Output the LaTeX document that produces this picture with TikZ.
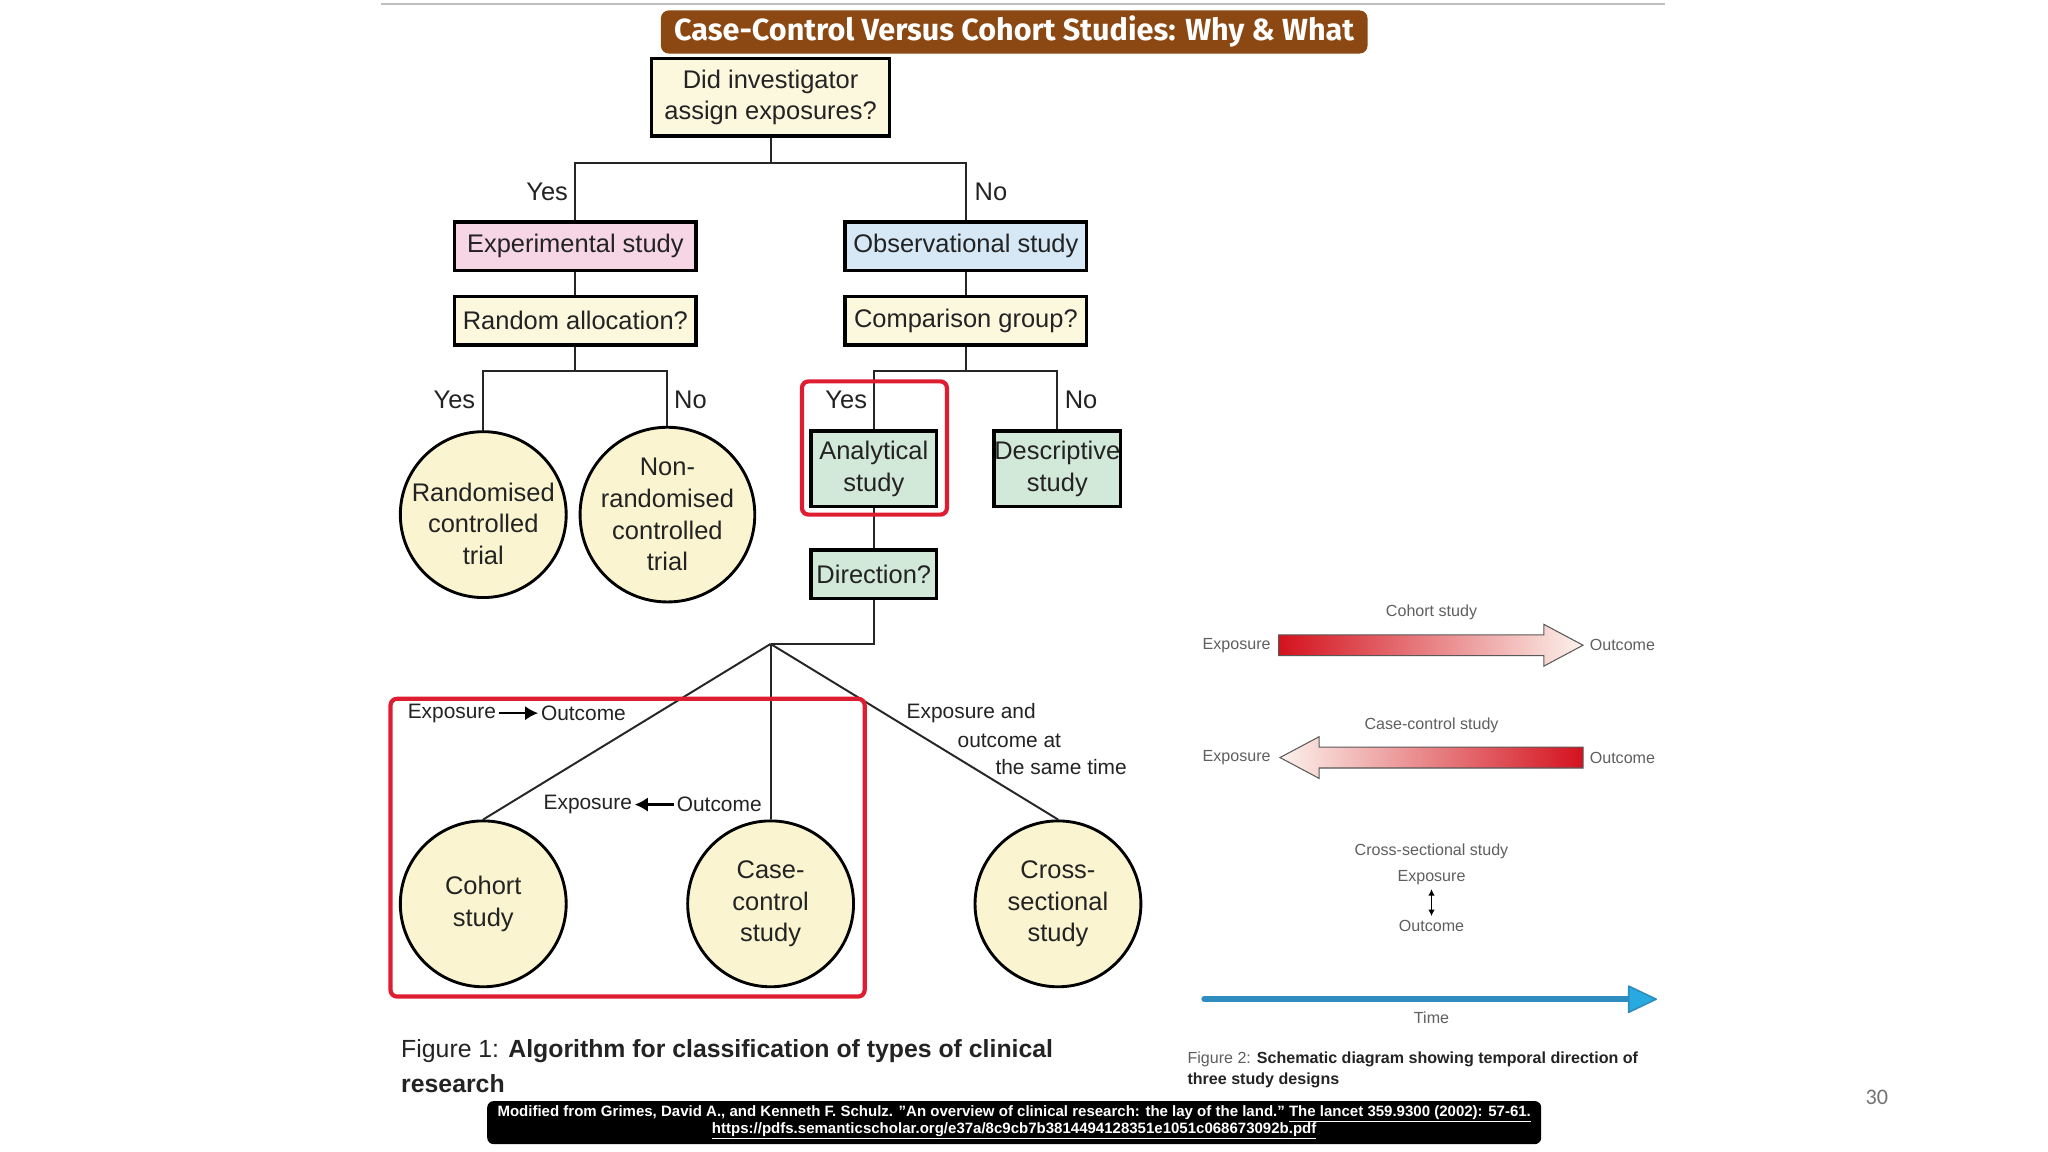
\documentclass[tikz,border=0pt]{standalone}
\usepackage{fontspec}
\setmainfont{Liberation Sans}
\newfontfamily\titlefont{Fira Sans}
\newfontfamily\pgfont{Carlito}
\usetikzlibrary{arrows.meta,shapes.geometric}
\definecolor{titlebrown}{RGB}{139,72,18}
\definecolor{cream}{RGB}{251,248,222}
\definecolor{circfill}{RGB}{250,245,208}
\definecolor{pinkfill}{RGB}{246,214,228}
\definecolor{bluefill}{RGB}{214,232,246}
\definecolor{greenfill}{RGB}{210,233,218}
\definecolor{redframe}{RGB}{222,30,48}
\definecolor{txt}{RGB}{35,35,35}
\definecolor{graytxt}{RGB}{95,95,95}
\definecolor{timeblue}{RGB}{46,140,190}
\definecolor{timecyan}{RGB}{40,170,225}
\definecolor{arrowred}{RGB}{212,18,30}
\definecolor{arrowmid}{RGB}{238,135,90}
\definecolor{arrowlight}{RGB}{252,242,236}
\newcommand{\treefont}{\fontsize{19.5}{24.3}\selectfont}
\newcommand{\midfont}{\fontsize{16}{19}\selectfont}
\newcommand{\smallfont}{\fontsize{12.3}{14}\selectfont}
\begin{document}
\begin{tikzpicture}[x=1pt,y=-1pt,
  box/.style={draw=black, line width=2.6pt, minimum width=185pt, minimum height=37pt, inner sep=0pt, align=center, font=\treefont, text=txt},
  circ/.style={circle, draw=black, line width=2.2pt, fill=circfill, minimum size=127pt, inner sep=0pt, align=center, font=\treefont, text=txt},
  conn/.style={line width=1.5pt, draw=black!85},
  lab/.style={inner sep=0pt, font=\treefont, text=txt},
  midlab/.style={inner sep=2pt, font=\midfont, text=txt},
  redbox/.style={draw=redframe, line width=3.2pt, rounded corners=5pt},
  small/.style={inner sep=0pt, font=\smallfont, text=graytxt},
  bigarrow/.style={draw=black!65, line width=0.8pt, line join=miter},
  dirarrow/.style={line width=1.8pt, -{Latex[length=10pt,width=11pt]}}
]
\useasboundingbox (0,0) rectangle (1568,882);
\fill[white] (0,0) rectangle (1568,882);
\draw[black!25, line width=1.5pt] (292,3) -- (1275,3);

% title
\node[fill=titlebrown, rounded corners=6pt, minimum width=541pt, minimum height=33pt, inner sep=0pt, text=white,
  font=\titlefont\bfseries\fontsize{23.4}{26}\selectfont] (title) at (776.5,24.5)
  {Case-Control Versus Cohort Studies: Why \& What};

% tree nodes
\node[box, fill=cream, minimum width=182pt, minimum height=59pt] (q1) at (590,74.5) {Did investigator\\assign exposures?};
\node[box, fill=pinkfill] (exp) at (440.5,188.5) {Experimental study};
\node[box, fill=bluefill] (obs) at (739.5,188.5) {Observational study};
\node[box, fill=cream] (rand) at (440.5,245.5) {Random allocation?};
\node[box, fill=cream] (comp) at (739.5,245.5) {Comparison group?};
\node[circ] (rct) at (370,394) {};
\node[lab, align=center] (rcttxt) at (370,401) {Randomised\\controlled\\trial};
\node[circ] (nrct) at (511,394) {Non-\\randomised\\controlled\\trial};
\node[box, fill=greenfill, minimum width=96pt, minimum height=58pt] (ana) at (669,359) {Analytical\\study};
\node[box, fill=greenfill, minimum width=97pt, minimum height=58pt] (desc) at (809.5,359) {Descriptive\\study};
\node[box, fill=greenfill, minimum width=96pt] (dir) at (669,439.5) {Direction?};
\node[circ] (coh) at (370,692) {Cohort\\study};
\node[circ] (cc) at (590,692) {Case-\\control\\study};
\node[circ] (cs) at (810,692) {Cross-\\sectional\\study};

% connectors
\coordinate (j1) at (590,125);
\draw[conn] (q1.south) -- (j1);
\draw[conn] (exp.north) |- (j1) -| (obs.north);
\draw[conn] (exp) -- (rand);
\draw[conn] (obs) -- (comp);
\coordinate (j2) at (440.5,284);
\draw[conn] (rand.south) -- (j2);
\draw[conn] (rct.north) |- (j2) -| (nrct.north);
\coordinate (j3) at (739.5,284);
\draw[conn] (comp.south) -- (j3);
\draw[conn] (ana.north) |- (j3) -| (desc.north);
\draw[conn] (ana) -- (dir);
\coordinate (apex) at (590,493);
\draw[conn] (dir.south) |- (apex);
\draw[conn] (apex) -- (coh.north);
\draw[conn] (apex) -- (cc.north);
\draw[conn] (apex) -- (cs.north);

% yes / no
\node[lab, anchor=east] (yes1) at (435,147) {Yes};
\node[lab, anchor=west] (no1) at (746,147) {No};
\node[lab, anchor=east] (yes2) at (364,306) {Yes};
\node[lab, anchor=west] (no2) at (516,306) {No};
\node[lab, anchor=east] (yes3) at (664,306) {Yes};
\node[lab, anchor=west] (no3) at (815,306) {No};

% red frames
\draw[redbox] (614,292) rectangle (725,394);
\draw[redbox] (299,535) rectangle (662,763);

% direction labels
\node[midlab, anchor=west] (e1) at (310,546) {Exposure};
\node[midlab, anchor=west] (o1) at (412,546) {Outcome};
\draw[dirarrow] (e1) -- (o1);
\node[midlab, anchor=west] (e2) at (414,616) {Exposure};
\node[midlab, anchor=west] (o2) at (516,616) {Outcome};
\draw[dirarrow] (o2) -- (e2);
\node[midlab, anchor=west] (st1) at (692,546) {Exposure and};
\node[midlab, anchor=west] (st2) at (731,567) {outcome at};
\node[midlab, anchor=west] (st3) at (760,587) {the same time};

% figure 1 caption
\node[anchor=west, inner sep=0pt, text=txt, font=\fontsize{19}{25}\selectfont] (cap1a) at (307,805)
  {Figure 1: \textbf{Algorithm for classification of types of clinical}};
\node[anchor=west, inner sep=0pt, text=txt, font=\fontsize{19}{25}\selectfont] (cap1b) at (307,830)
  {\textbf{research}};

% figure 2
\node[small] (cohlab) at (1096,469) {Cohort study};
\node[small, anchor=east] (ex1) at (973,494) {Exposure};
\node[small, anchor=west] (ou1) at (1217,494) {Outcome};
\shadedraw[bigarrow, left color=arrowred, middle color=arrowmid, right color=arrowlight]
  (979,486) -- (1182,486) -- (1182,478) -- (1212,494) -- (1182,510) -- (1182,502) -- (979,502) -- cycle;

\node[small] (cclab) at (1096,555) {Case-control study};
\node[small, anchor=east] (ex2) at (973,580) {Exposure};
\node[small, anchor=west] (ou2) at (1217,580) {Outcome};
\shadedraw[bigarrow, left color=arrowlight, middle color=arrowmid, right color=arrowred]
  (1212,572) -- (1010,572) -- (1010,564) -- (980,580) -- (1010,596) -- (1010,588) -- (1212,588) -- cycle;

\node[small] (cslab) at (1096,652) {Cross-sectional study};
\node[small] (ex3) at (1096,672) {Exposure};
\node[small] (ou3) at (1096,709) {Outcome};
\draw[line width=1pt, {Latex[length=5pt,width=5pt]}-{Latex[length=5pt,width=5pt]}, shorten <=3pt, shorten >=3pt] (ex3) -- (ou3);

\coordinate (t0) at (922,765);
\coordinate (t1) at (1250,765);
\draw[line width=4.5pt, draw=timeblue, line cap=round] (t0) -- (t1);
\filldraw[fill=timecyan, draw=timeblue, line width=1.2pt, line join=round] (1247,755) -- (1268,765) -- (1247,775) -- cycle;
\node[small] (time) at (1096,779) {Time};

\node[anchor=west, inner sep=0pt, text=txt, font=\fontsize{12.3}{16}\selectfont] (cap2a) at (909,811)
  {\textcolor{graytxt}{Figure 2:} \textbf{Schematic diagram showing temporal direction of}};
\node[anchor=west, inner sep=0pt, text=txt, font=\fontsize{12.3}{16}\selectfont] (cap2b) at (909,827)
  {\textbf{three study designs}};

% citation
\node[fill=black, rounded corners=5pt, minimum width=807pt, minimum height=33pt, inner sep=0pt, text=white, align=center,
  font=\bfseries\fontsize{11.5}{13}\selectfont] (cite) at (776.5,859.5)
  {Modified from Grimes, David A., and Kenneth F. Schulz. "An overview of clinical research: the lay of the land." \underline{The lancet 359.9300 (2002): 57-61.}\\
   \underline{https://pdfs.semanticscholar.org/e37a/8c9cb7b3814494128351e1051c068673092b.pdf}};

\node[text=black!55, inner sep=0pt, font=\pgfont\fontsize{17}{20}\selectfont] (pg) at (1437,840) {30};
\end{tikzpicture}
\end{document}
